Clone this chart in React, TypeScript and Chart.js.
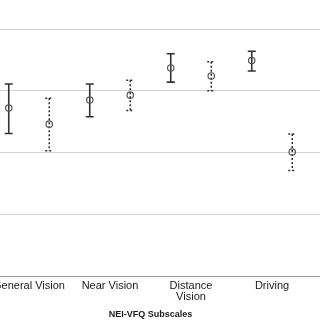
import React, { useEffect, useRef } from "react";
import { Chart, registerables } from "chart.js";

Chart.register(...registerables);

// NEI-VFQ subscale scores: two groups, mean with lower/upper interval bounds
const categories = ["General Vision", "Near Vision", ["Distance", "Vision"], "Driving"];

const solidMean = [87.2, 88.5, 93.7, 94.9];
const solidLow = [83.1, 85.8, 91.4, 93.2];
const solidHigh = [91.1, 91.1, 96.0, 96.4];

const dashedMean = [84.6, 89.3, 92.4, 80.1];
const dashedLow = [80.3, 86.8, 90.0, 77.1];
const dashedHigh = [88.8, 91.7, 94.7, 83.0];

const yTicks = [60, 70, 80, 90, 100];

const GROUP_SHIFT = 0.25;

type Bars = { low: number[]; high: number[]; dash: number[]; color: string; width: number };

const errorBars: Bars[] = [
  { low: solidLow, high: solidHigh, dash: [], color: "#333", width: 1.6 },
  { low: dashedLow, high: dashedHigh, dash: [2, 2], color: "#2e2e2e", width: 1.5 },
];

const errorBarPlugin = {
  id: "errorBars",
  beforeDatasetsDraw(chart: any) {
    const { ctx, scales } = chart;
    const xs = scales.x;
    const ys = scales.y;
    chart.data.datasets.forEach((ds: any, di: number) => {
      const spec = errorBars[di];
      if (!spec) return;
      ctx.save();
      ctx.strokeStyle = spec.color;
      ctx.lineWidth = spec.width;
      ctx.setLineDash(spec.dash);
      ds.data.forEach((pt: any, i: number) => {
        const x = xs.getPixelForValue(pt.x);
        const yl = ys.getPixelForValue(spec.low[i]);
        const yh = ys.getPixelForValue(spec.high[i]);
        const cap = 4;
        ctx.beginPath();
        ctx.moveTo(x, yh);
        ctx.lineTo(x, yl);
        ctx.moveTo(x - cap, yh);
        ctx.lineTo(x + cap, yh);
        ctx.moveTo(x - cap, yl);
        ctx.lineTo(x + cap, yl);
        ctx.stroke();
      });
      ctx.restore();
    });
  },
};

export default function App() {
  const ref = useRef<HTMLCanvasElement | null>(null);

  useEffect(() => {
    if (!ref.current) return;
    const chart = new Chart(ref.current, {
      type: "scatter",
      data: {
        datasets: [
          {
            data: solidMean.map((v, i) => ({ x: i + 1 - GROUP_SHIFT, y: v })),
            pointRadius: 3.2,
            pointBorderWidth: 1.2,
            borderColor: "#555",
            backgroundColor: "rgba(255,255,255,0)",
          },
          {
            data: dashedMean.map((v, i) => ({ x: i + 1 + GROUP_SHIFT, y: v })),
            pointRadius: 3.2,
            pointBorderWidth: 1.2,
            borderColor: "#555",
            backgroundColor: "rgba(255,255,255,0)",
          },
        ],
      },
      options: {
        animation: false,
        responsive: false,
        devicePixelRatio: 1,
        layout: { autoPadding: false, padding: { top: 29, left: 0, right: 0, bottom: 0 } },
        plugins: {
          legend: { display: false },
          tooltip: { enabled: false },
        },
        scales: {
          x: {
            type: "linear",
            min: 0,
            max: 5,
            afterBuildTicks: (axis: any) => {
              axis.ticks = categories.map((_, i) => ({ value: i + 1 }));
            },
            grid: { display: false, drawTicks: false },
            border: { display: true, color: "#9a9a9a", width: 1 },
            ticks: {
              autoSkip: false,
              maxRotation: 0,
              padding: 4,
              color: "#1a1a1a",
              font: { family: "'Liberation Sans', Arial, sans-serif", size: 11, lineHeight: 1.0 },
              callback: (v: any) => categories[Math.round(v) - 1] as any,
            },
            title: {
              display: true,
              text: "NEI-VFQ Subscales",
              color: "#1a1a1a",
              font: { family: "'Liberation Sans', Arial, sans-serif", size: 9, weight: "bold" },
              padding: { top: 3, bottom: 0 },
            },
          },
          y: {
            min: yTicks[0],
            max: yTicks[yTicks.length - 1],
            afterBuildTicks: (axis: any) => {
              axis.ticks = yTicks.map((v) => ({ value: v }));
            },
            afterFit: (axis: any) => {
              axis.width = 0;
            },
            grid: { color: "#d2d2d2", lineWidth: 1, drawTicks: false },
            border: { display: false },
            ticks: { display: false, padding: 0 },
          },
        },
      },
      plugins: [errorBarPlugin],
    } as any);
    return () => chart.destroy();
  }, []);

  return (
    <div style={{ position: "fixed", left: -52, top: 0, width: 405, height: 320, background: "#fff" }}>
      <canvas ref={ref} width={405} height={320} style={{ display: "block" }} />
    </div>
  );
}
